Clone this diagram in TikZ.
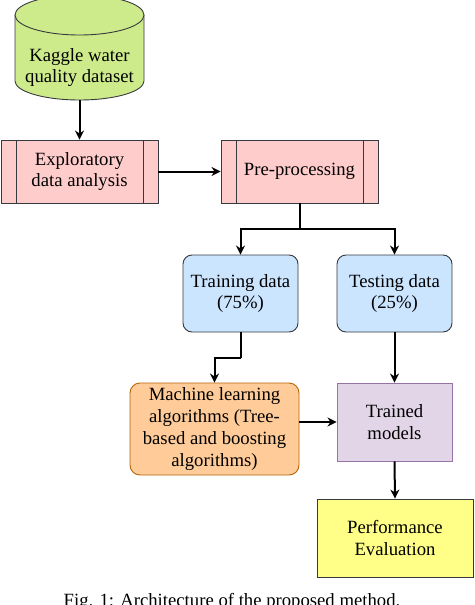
\documentclass[tikz,border=0pt]{standalone}
\usepackage{fontspec}
\setmainfont{Liberation Serif}
\usetikzlibrary{arrows.meta,calc}
\definecolor{cgreen}{HTML}{CDEB8B}
\definecolor{cpink}{HTML}{FFCCCC}
\definecolor{cblue}{HTML}{CCE5FF}
\definecolor{corange}{HTML}{FFCC99}
\definecolor{cpurple}{HTML}{E1D5E7}
\definecolor{cyellow}{HTML}{FFFF88}
\definecolor{cdark}{HTML}{36393D}
\definecolor{cbrown}{HTML}{B46504}
\definecolor{cpurpleb}{HTML}{9673A6}
\begin{document}
\begin{tikzpicture}[x=1pt,y=-1pt,
  every node/.style={font=\fontsize{18.7}{21.8}\selectfont, align=center, inner sep=0pt},
  boxbase/.style={draw=cdark, line width=0.9pt},
  procbox/.style={boxbase, fill=cpink, minimum width=157pt, minimum height=63pt,
    path picture={
      \draw[cdark, line width=0.9pt] ([xshift=15pt]path picture bounding box.north west) -- ([xshift=15pt]path picture bounding box.south west);
      \draw[cdark, line width=0.9pt] ([xshift=-15pt]path picture bounding box.north east) -- ([xshift=-15pt]path picture bounding box.south east);
    }},
  databox/.style={boxbase, fill=cblue, rounded corners=9pt, minimum width=115pt, minimum height=77pt},
  conn/.style={line width=2pt, -{Stealth[length=9pt,width=9pt]}},
  plainline/.style={line width=2pt}
]
\useasboundingbox (0,0) rectangle (474,605);

% cylinder
\draw[boxbase, fill=cgreen] (15,15) -- (15,81) arc[start angle=180, end angle=0, x radius=64.5, y radius=19] -- (144,15) -- cycle;
\draw[boxbase, fill=cgreen] (79.5,15) ellipse[x radius=64.5, y radius=20];
\node[minimum width=129pt, minimum height=65pt] (kag) at (79.5,67.5) {Kaggle water\\quality dataset};

\node[procbox] (eda) at (79.5,171.5) {Exploratory\\data analysis};
\node[procbox] (pre) at (299.5,171.5) {Pre-processing};

\node[databox] (train) at (240.5,293.5) {Training data\\(75\%)};
\node[databox] (test) at (394.5,293.5) {Testing data\\(25\%)};

\node[draw=cbrown, line width=0.9pt, fill=corange, rounded corners=10pt, minimum width=169pt, minimum height=92pt] (ml) at (214.5,429) {Machine learning\\algorithms (Tree-\\based and boosting\\algorithms)};
\node[draw=cpurpleb, line width=0.9pt, fill=cpurple, minimum width=115pt, minimum height=78pt] (tm) at (394.5,422) {Trained\\models};
\node[boxbase, fill=cyellow, minimum width=156pt, minimum height=78pt] (perf) at (395,538) {Performance\\Evaluation};

\node[anchor=base] (cap) at (232,606.5) {Fig. 1: Architecture of the proposed method.};

\coordinate (split) at (299.5,229);
\coordinate (jog) at (240.5,358);

\draw[conn] (kag.south) -- (eda.north);
\draw[conn] (eda.east) -- (pre.west);
\draw[plainline] (pre.south) -- (split);
\draw[conn] (split) -| (train.north);
\draw[conn] (split) -| (test.north);
\draw[plainline] (train.south) -- (jog);
\draw[conn] (jog) -| (ml.north);
\draw[conn] (test.south) -- (tm.north);
\draw[conn] (ml.east |- tm.west) -- (tm.west);
\draw[conn] (tm.south) -- (perf.north);
\end{tikzpicture}
\end{document}
